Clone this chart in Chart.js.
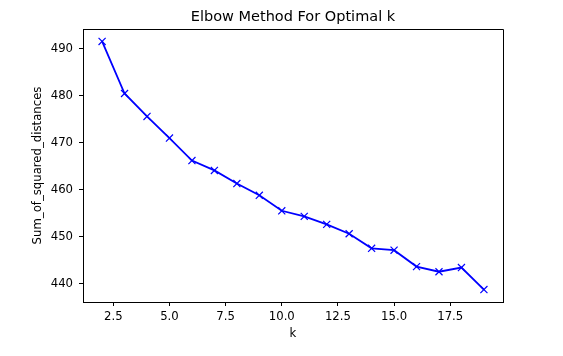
<!DOCTYPE html>
<html>
<head>
<meta charset="utf-8">
<script src="https://cdn.jsdelivr.net/npm/chart.js@4/dist/chart.umd.min.js"></script>
<style>
html,body{margin:0;padding:0;background:#fff;}
#c{display:block;}
</style>
</head>
<body>
<canvas id="c" width="563" height="356"></canvas>
<script>
const ks = [2,3,4,5,6,7,8,9,10,11,12,13,14,15,16,17,18,19];
const sse = [491.6,480.5,475.6,471.0,466.2,464.1,461.3,458.8,455.5,454.3,452.6,450.6,447.5,447.1,443.6,442.5,443.4,438.7];
const xTicks = [2.5,5.0,7.5,10.0,12.5,15.0,17.5];
const yTicks = [440,450,460,470,480,490];
const titleText = 'Elbow Method For Optimal k';
const xLabel = 'k';
const yLabel = 'Sum_of_squared_distances';

const FONT = "'DejaVu Sans', sans-serif";
const frame = {
  id: 'frame',
  afterDraw(chart) {
    const {ctx, chartArea: a} = chart;
    ctx.save();
    ctx.strokeStyle = '#000';
    ctx.lineWidth = 1;
    ctx.beginPath();
    ctx.moveTo(Math.round(a.left) + 0.5, Math.round(a.top) + 0.5);
    ctx.lineTo(Math.round(a.right) + 0.5, Math.round(a.top) + 0.5);
    ctx.lineTo(Math.round(a.right) + 0.5, Math.round(a.bottom) + 0.5);
    ctx.stroke();
    // axes title centred over the plot area, as matplotlib does
    ctx.fillStyle = '#000';
    ctx.font = "14.5px " + FONT;
    ctx.textAlign = 'center';
    ctx.textBaseline = 'middle';
    ctx.fillText(titleText, (a.left + a.right) / 2, 17.7);
    ctx.restore();
  }
};

new Chart(document.getElementById('c'), {
  type: 'line',
  data: {
    datasets: [{
      data: ks.map((k, i) => ({x: k, y: sse[i]})),
      borderColor: '#0000ff',
      backgroundColor: '#0000ff',
      borderWidth: 1.8,
      pointStyle: 'crossRot',
      pointRadius: 5,
      pointBorderWidth: 1.2,
      pointBorderColor: '#0000ff',
      tension: 0,
      fill: false
    }]
  },
  options: {
    responsive: false,
    animation: false,
    devicePixelRatio: 1,
    layout: {padding: {left: 0, right: 60, top: 29, bottom: 0}},
    plugins: {
      legend: {display: false},
      tooltip: {enabled: false},
      title: {display: false}
    },
    scales: {
      x: {
        type: 'linear',
        min: 1.15,
        max: 19.85,
        afterFit(s) { s.height = 54; },
        afterBuildTicks(s) { s.ticks = xTicks.map(v => ({value: v})); },
        ticks: {
          color: '#000',
          font: {family: FONT, size: 11.7},
          padding: 4,
          autoSkip: false,
          maxRotation: 0,
          callback: v => Number(v).toFixed(1)
        },
        grid: {drawOnChartArea: false, drawTicks: true, tickLength: 4, tickColor: '#000', tickWidth: 1},
        border: {display: true, color: '#000', width: 1},
        title: {
          display: true,
          text: xLabel,
          color: '#000',
          font: {family: FONT, size: 11.7, lineHeight: 1.2},
          padding: {top: 0, bottom: 15.5}
        }
      },
      y: {
        type: 'linear',
        min: 436.05,
        max: 494.25,
        afterFit(s) { s.width = 83; },
        afterBuildTicks(s) { s.ticks = yTicks.map(v => ({value: v})); },
        ticks: {
          color: '#000',
          font: {family: FONT, size: 11.7},
          padding: 6,
          autoSkip: false,
          callback: v => String(v)
        },
        grid: {drawOnChartArea: false, drawTicks: true, tickLength: 4, tickColor: '#000', tickWidth: 1},
        border: {display: true, color: '#000', width: 1},
        title: {
          display: true,
          text: yLabel,
          color: '#000',
          font: {family: FONT, size: 11.7, lineHeight: 1.2},
          padding: {top: 30.5, bottom: 0}
        }
      }
    }
  },
  plugins: [frame]
});
</script>
</body>
</html>
